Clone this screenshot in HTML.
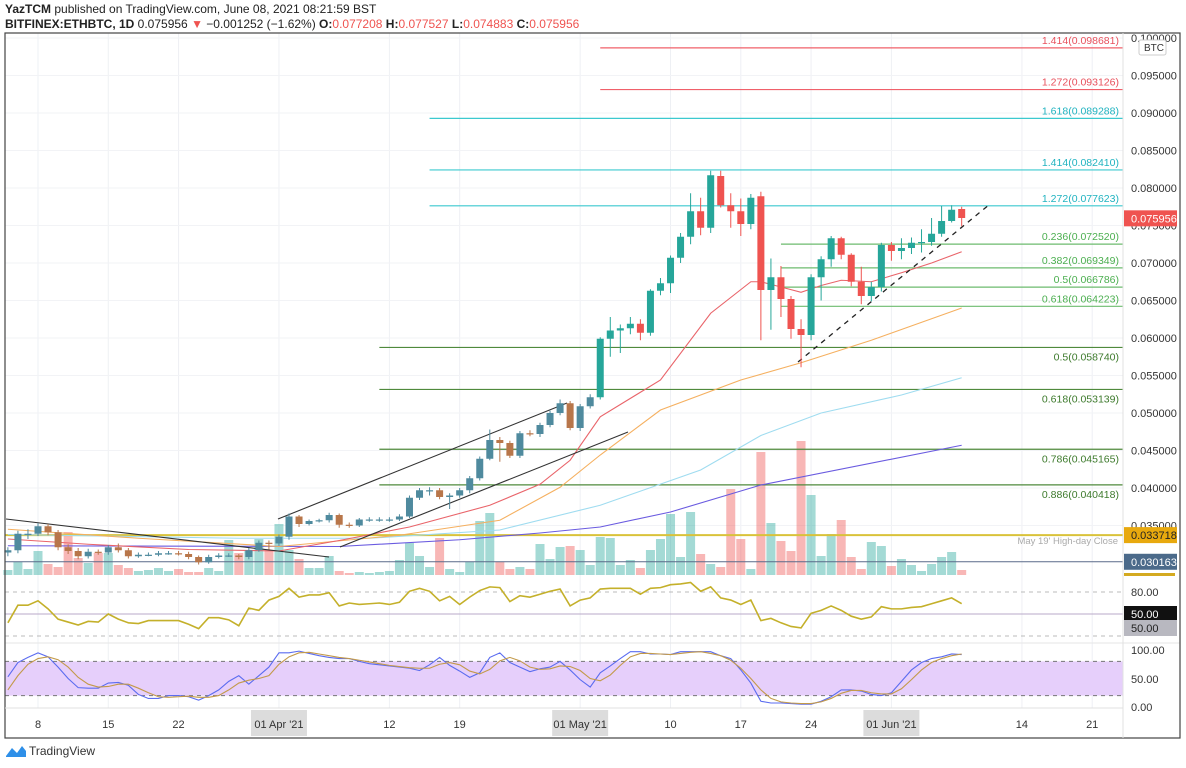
<!DOCTYPE html>
<html><head><meta charset="utf-8">
<style>
body{margin:0;background:#fff;font-family:"Liberation Sans",sans-serif;}
#wrap{position:relative;width:1186px;height:768px;overflow:hidden;background:#fff;}
.hdr{position:absolute;left:5px;font-size:12px;color:#222;white-space:nowrap;}
svg text{font-family:"Liberation Sans",sans-serif;}
</style></head>
<body>
<div id="wrap">
<div class="hdr" style="top:2px"><b>YazTCM</b> published on TradingView.com, June 08, 2021 08:21:59 BST</div>
<div class="hdr" style="top:17px"><b>BITFINEX:ETHBTC, 1D</b> 0.075956 <span style="color:#ef5350">▼</span> −0.001252 (−1.62%) <b>O:</b><span style="color:#ef5350">0.077208</span> <b>H:</b><span style="color:#ef5350">0.077527</span> <b>L:</b><span style="color:#ef5350">0.074883</span> <b>C:</b><span style="color:#ef5350">0.075956</span></div>
<svg id="chart" width="1186" height="768" style="position:absolute;left:0;top:0"></svg>
<div style="position:absolute;left:5px;top:744px;font-size:12px;color:#333;display:flex;align-items:center">
<svg width="22" height="14" viewBox="0 0 22 14"><path d="M1 12 L7 4 L12 9 L17 2 L21 7 L21 13 L1 13 Z" fill="#2e8fe8"/></svg><span style="margin-left:2px">TradingView</span></div>
</div>
<script>
const closes=[0.0317,0.0339,0.0339,0.0349,0.0341,0.0321,0.0316,0.0309,0.0315,0.0314,
0.0321,0.0317,0.0309,0.0311,0.0311,0.0313,0.0313,0.0312,0.0308,0.0301,
0.0308,0.0310,0.0310,0.0308,0.0317,0.0327,0.0326,0.0335,0.0362,0.0352,
0.0356,0.0357,0.0364,0.0351,0.0350,0.0358,0.0358,0.0358,0.0358,0.0362,
0.0387,0.0397,0.0397,0.0388,0.0390,0.0397,0.0413,0.0439,0.0464,0.0460,
0.0443,0.0473,0.0472,0.0484,0.0500,0.0513,0.0480,0.0509,0.0521,0.0599,
0.0610,0.0613,0.0619,0.0607,0.0663,0.0673,0.0707,0.0735,0.0769,0.0747,
0.0817,0.0777,0.0769,0.0752,0.0787,0.0664,0.0681,0.0652,0.0612,0.0604,
0.0681,0.0705,0.0733,0.0711,0.0675,0.0656,0.0668,0.0724,0.0716,0.0720,
0.0727,0.0728,0.0739,0.0756,0.0771,0.0760];
const opens=[0.0314,0.0317,0.0339,0.0339,0.0349,0.0341,0.0321,0.0316,0.0309,0.0315,
0.0314,0.0321,0.0317,0.0309,0.0311,0.0311,0.0313,0.0313,0.0312,0.0308,
0.0301,0.0308,0.0310,0.0310,0.0308,0.0317,0.0327,0.0326,0.0335,0.0362,
0.0352,0.0356,0.0357,0.0364,0.0351,0.0350,0.0358,0.0358,0.0358,0.0358,
0.0362,0.0387,0.0397,0.0397,0.0388,0.0390,0.0397,0.0413,0.0439,0.0464,
0.0460,0.0443,0.0473,0.0472,0.0484,0.0500,0.0513,0.0480,0.0509,0.0521,
0.0599,0.0610,0.0613,0.0619,0.0607,0.0663,0.0673,0.0707,0.0735,0.0769,
0.0747,0.0816,0.0777,0.0769,0.0752,0.0789,0.0664,0.0681,0.0652,0.0612,
0.0604,0.0681,0.0705,0.0733,0.0711,0.0675,0.0656,0.0668,0.0724,0.0716,
0.0720,0.0727,0.0728,0.0739,0.0756,0.0772];
const highs=[0.0321,0.0343,0.0345,0.0353,0.0352,0.0344,0.0325,0.0320,0.0319,0.0318,
0.0324,0.0326,0.0320,0.0314,0.0314,0.0316,0.0316,0.0316,0.0315,0.0310,
0.0311,0.0313,0.0313,0.0312,0.0320,0.0330,0.0330,0.0338,0.0366,0.0364,
0.0358,0.0359,0.0367,0.0366,0.0354,0.0360,0.0361,0.0361,0.0361,0.0365,
0.0390,0.0400,0.0401,0.0400,0.0393,0.0400,0.0416,0.0442,0.0478,0.0468,
0.0463,0.0476,0.0477,0.0487,0.0503,0.0518,0.0516,0.0512,0.0525,0.0601,
0.0628,0.0618,0.0628,0.0625,0.0665,0.0680,0.0710,0.0740,0.0793,0.0787,
0.0823,0.0823,0.0793,0.0786,0.0792,0.0795,0.0706,0.0696,0.0656,0.0625,
0.0685,0.0709,0.0736,0.0735,0.0713,0.0695,0.0675,0.0727,0.0728,0.0733,
0.0734,0.0745,0.0760,0.0776,0.0777,0.0775];
const lows=[0.0309,0.0313,0.0332,0.0336,0.0337,0.0317,0.0312,0.0305,0.0306,0.0311,
0.0311,0.0314,0.0306,0.0307,0.0309,0.0309,0.0311,0.0310,0.0305,0.0298,
0.0299,0.0306,0.0308,0.0305,0.0305,0.0315,0.0318,0.0323,0.0331,0.0348,
0.0350,0.0354,0.0354,0.0347,0.0347,0.0348,0.0355,0.0355,0.0355,0.0356,
0.0360,0.0384,0.0390,0.0385,0.0372,0.0387,0.0393,0.0410,0.0437,0.0435,
0.0440,0.0440,0.0469,0.0468,0.0481,0.0497,0.0477,0.0476,0.0506,0.0518,
0.0575,0.0580,0.0605,0.0597,0.0603,0.0657,0.0660,0.0700,0.0725,0.0737,
0.0740,0.0774,0.0747,0.0736,0.0745,0.0597,0.0611,0.0628,0.0599,0.0561,
0.0597,0.0650,0.0695,0.0705,0.0669,0.0645,0.0649,0.0662,0.0703,0.0705,
0.0712,0.0714,0.0723,0.0735,0.0754,0.0749];
const volumes=[5,13,6,24,11,8,43,17,12,22,22,10,7,4,5,7,4,6,3,3,7,4,35,22,25,36,25,51,25,16,7,7,19,4,2,3,2,3,4,15,32,19,8,37,6,3,13,54,62,13,6,8,6,31,16,28,29,25,10,38,
37,10,15,7,25,36,61,18,63,21,11,8,86,36,6,123,52,34,24,134,80,19,41,55,18,6,33,29,9,16,10,4,11,18,23,5];
const rsiValues=[38,62,62,68,57,43,39,35,40,39,50,43,38,37,41,41,41,41,36,30,45,45,42,34,58,55,69,74,85,73,76,76,79,61,65,63,64,65,63,66,81,85,81,68,74,63,73,82,87,86,67,75,73,77,81,84,61,69,72,84,
85,85,85,77,85,86,90,91,93,81,87,72,69,63,69,41,44,38,33,31,51,55,61,55,47,43,46,60,57,57,59,60,64,68,72,64];
const stochK=[53,78,87,95,88,70,50,34,33,33,42,43,38,22,15,15,20,20,18,12,20,30,45,55,40,55,70,95,95,98,94,90,87,85,85,80,76,74,72,70,68,64,74,87,73,63,52,60,87,95,78,70,62,67,70,80,65,48,35,60,72,85,97,97,93,93,92,97,97,97,97,90,85,65,42,10,7,7,6,5,5,10,18,30,30,28,22,20,25,45,65,78,85,88,93,92];
const stochD=[30,55,75,85,88,83,70,52,40,35,36,40,40,33,25,18,17,18,19,17,17,20,30,42,47,50,55,75,88,95,96,93,90,87,85,82,79,76,73,71,69,68,68,75,78,74,63,58,66,81,87,81,70,66,67,72,71,64,50,46,56,73,88,94,94,93,92,94,96,97,94,90,82,68,50,30,15,9,7,6,6,9,15,24,29,29,25,23,23,32,48,65,78,85,90,93];
const maRed=[[-3,0.0332],[5,0.0325],[15,0.0318],[24,0.0316],[30,0.0330],[37,0.0348],[45,0.0377],[50,0.0405],[53,0.0437],[56,0.0495],[62,0.0544],[67,0.0633],[71,0.0675],[72,0.0675],[74,0.0668],[76,0.0661],[78,0.0670],[80,0.0677],[83,0.0675],[86,0.0687],[89,0.0700],[92,0.0715]];
const maOrange=[[-3,0.0345],[10,0.0333],[24,0.0322],[36,0.0337],[46,0.0357],[52,0.0401],[56,0.0444],[62,0.0504],[70,0.0544],[76,0.0567],[83,0.0597],[92,0.0640]];
const maBlue=[[-3,0.0338],[20,0.0333],[33,0.0333],[46,0.0344],[56,0.0377],[66,0.0424],[72,0.0470],[78,0.0500],[86,0.0524],[92,0.0547]];
const maPurple=[[-3,0.0323],[30,0.0322],[42,0.0331],[50,0.0340],[56,0.0348],[63,0.0368],[72,0.0404],[92,0.0457]];
const fibLevels=[["1.414",0.098681],["1.272",0.093126],["1.618",0.089288],["1.414",0.082410],["1.272",0.077623],["0.236",0.072520],["0.382",0.069349],["0.5",0.066786],["0.618",0.064223],["0.5",0.058740],["0.618",0.053139],["0.786",0.045165],["0.886",0.040418]];
const fibStartDay=[56,56,39,39,39,74,74,74,74,34,34,34,34];
const priceTicks=[0.100,0.095,0.090,0.085,0.080,0.075,0.070,0.065,0.060,0.055,0.050,0.045,0.040,0.035];
const timeLabels=["8","15","22","01 Apr '21","12","19","01 May '21","10","17","24","01 Jun '21","14","21"];
const timeDays=[0,7,14,24,35,42,54,63,70,77,85,98,105];
const FIRST_DAY=-3;

const NS="http://www.w3.org/2000/svg";
const svg=document.getElementById('chart');
function el(tag,attrs,parent){const e=document.createElementNS(NS,tag);for(const k in attrs)e.setAttribute(k,attrs[k]);(parent||svg).appendChild(e);return e;}
const X0=5,XR=1123,XE=1180,TOP=33,BOT=738;
const xd=d=>38+d*10.04;
const py=p=>38+(0.1-p)*7500;
const vy=v=>575-v*1.0;
const ry=v=>614-(v-50)*0.733;
const sy=v=>707-v*0.57;

// grid
timeDays.forEach((d,i)=>{const g=el('line',{x1:xd(d),x2:xd(d),y1:TOP,y2:708,stroke:'#eef0f4','stroke-width':1});

});
priceTicks.forEach(p=>{const g=el('line',{x1:X0,x2:XR,y1:py(p),y2:py(p),stroke:'#f2f3f6'});

});

// volume
volumes.forEach((v,i)=>{const d=i+FIRST_DAY;const up=closes[i]>=opens[i];
const r=el('rect',{x:xd(d)-4.5,y:vy(v),width:9,height:575-vy(v),fill:up?'rgba(38,166,154,0.42)':'rgba(239,83,80,0.42)'});

});

// horizontal key lines
const yl=el('line',{x1:X0,x2:XR,y1:py(0.033718),y2:py(0.033718),stroke:'#d9c23a','stroke-width':2});


const bl=el('line',{x1:X0,x2:XR,y1:py(0.030163),y2:py(0.030163),stroke:'#5a6a8a','stroke-width':1});


const mt=el('text',{x:1118,y:544,'font-size':9.5,fill:'#aaa','text-anchor':'end'});mt.textContent="May 19' High-day Close";



// fib lines
fibLevels.forEach((f,i)=>{const y=py(f[1]);
let col=i<2?'#f0606a':(i<5?'#3cc9cf':(i<9?'#6dbb6f':'#4f8a3c'));
let tcol=i<2?'#e8505c':(i<5?'#20b3c0':(i<9?'#4caf50':'#3d7a2c'));
const l=el('line',{x1:xd(fibStartDay[i]),x2:XR,y1:y,y2:y,stroke:col,'stroke-width':1.2});


const below=i>=9;
const t=el('text',{x:1119,y:below?y+13:y-4,'font-size':10.5,fill:tcol,'text-anchor':'end'});
t.textContent=f[0]+"("+f[1].toFixed(6)+")";

});

// moving averages
function maLine(arr,color,name){const pts=arr.map(p=>xd(p[0])+','+py(p[1])).join(' ');
const pl=el('polyline',{points:pts,fill:'none',stroke:color,'stroke-width':1.1});

}
maLine(maPurple,'#6a5be0','ma-200-line');
maLine(maBlue,'#9fdcf0','ma-100-line');
maLine(maOrange,'#f5b060','ma-50-line');
maLine(maRed,'#e9646a','ma-20-line');

// trend lines
[[6,519,329,557],[278,519,567,403],[340,547,628,432]].forEach(t=>{const l=el('line',{x1:t[0],y1:t[1],x2:t[2],y2:t[3],stroke:'#333','stroke-width':1.1});

});
const dl=el('line',{x1:798,y1:362,x2:990,y2:204,stroke:'#222','stroke-width':1.3,'stroke-dasharray':'5,5'});



// candles
closes.forEach((c,i)=>{const d=i+FIRST_DAY;const o=opens[i];const up=c>=o;const early=d<56;
const col=up?(early?'#4f8a9e':'#26a69a'):(early?'#b8764a':'#ef5350');
const x=xd(d);
const w=el('line',{x1:x,x2:x,y1:py(highs[i]),y2:py(lows[i]),stroke:col,'stroke-width':1});


const top=py(Math.max(o,c)),bh=Math.max(1.2,py(Math.min(o,c))-top);
const b=el('rect',{x:x-3.5,y:top,width:7,height:bh,fill:col});

});

// RSI pane
[80,20].forEach(v=>{const l=el('line',{x1:X0,x2:XR,y1:ry(v),y2:ry(v),stroke:'#bbb','stroke-dasharray':'4,4'});

});
const rm=el('line',{x1:X0,x2:XR,y1:ry(50),y2:ry(50),stroke:'#b9a9c9'});


const rl=el('polyline',{points:rsiValues.map((v,i)=>xd(i+FIRST_DAY)+','+ry(v)).join(' '),fill:'none',stroke:'#c4b02a','stroke-width':1.6});


const sep=el('line',{x1:X0,x2:XE,y1:643,y2:643,stroke:'#e6e6e6'});



// Stoch pane
const band=el('rect',{x:X0,y:sy(80),width:XR-X0,height:sy(20)-sy(80),fill:'#e6cffb'});


[80,20].forEach(v=>{const l=el('line',{x1:X0,x2:XR,y1:sy(v),y2:sy(v),stroke:'#777','stroke-dasharray':'4,4'});

});
const sk=el('polyline',{points:stochK.map((v,i)=>xd(i+FIRST_DAY)+','+sy(v)).join(' '),fill:'none',stroke:'#5b6cf0','stroke-width':1.1});


const sd=el('polyline',{points:stochD.map((v,i)=>xd(i+FIRST_DAY)+','+sy(v)).join(' '),fill:'none',stroke:'#c39a4a','stroke-width':1.1});



// frame
const fr=el('rect',{x:X0,y:TOP,width:XE-X0,height:BOT-TOP,fill:'none',stroke:'#444','stroke-width':1.2});


const ax=el('line',{x1:XR,x2:XR,y1:TOP,y2:BOT,stroke:'#e0e0e0'});


const tx=el('line',{x1:X0,x2:XR,y1:708,y2:708,stroke:'#e0e0e0'});



// price axis labels
priceTicks.forEach(p=>{const t=el('text',{x:1131,y:py(p)+4,'font-size':11,fill:'#333'});t.textContent=p.toFixed(6);

});
const btc=el('rect',{x:1139,y:40,width:27,height:15,fill:'#fff',stroke:'#ccc',rx:2});


const bt=el('text',{x:1144,y:51,'font-size':10,fill:'#333'});bt.textContent='BTC';


function axisBox(y,txt,bg,fg,name){const r=el('rect',{x:1124,y:y-8,width:53,height:16,fill:bg});


const t=el('text',{x:1131,y:y+4,'font-size':11,fill:fg});t.textContent=txt;

}
axisBox(py(0.075956),'0.075956','#ef5350','#fff','last-price-label');
axisBox(py(0.033718),'0.033718','#e8a90e','#222','may19-price-label');
axisBox(py(0.030163),'0.030163','#4b6a8a','#fff','support-price-label');
const gb=el('rect',{x:1124,y:573,width:51,height:3,fill:'#d4aa20'});


// RSI axis
const r80=el('text',{x:1131,y:596,'font-size':11,fill:'#333'});r80.textContent='80.00';


axisBox(614,'50.00','#111','#fff','rsi-value-label');
axisBox(628,'50.00','#b8b8c0','#222','rsi-ma-label');
[[650,'100.00'],[679,'50.00'],[707,'0.00']].forEach(a=>{const t=el('text',{x:1131,y:a[0]+4,'font-size':11,fill:'#333'});t.textContent=a[1];

});

// time axis
timeLabels.forEach((s,i)=>{const x=xd(timeDays[i]);const box=s.length>3;
if(box){const r=el('rect',{x:x-28,y:710,width:56,height:26,fill:'#dcdcdc'});

}
const t=el('text',{x:x,y:728,'font-size':11,fill:'#333','text-anchor':'middle'});t.textContent=s;

});
</script>
</body></html>
